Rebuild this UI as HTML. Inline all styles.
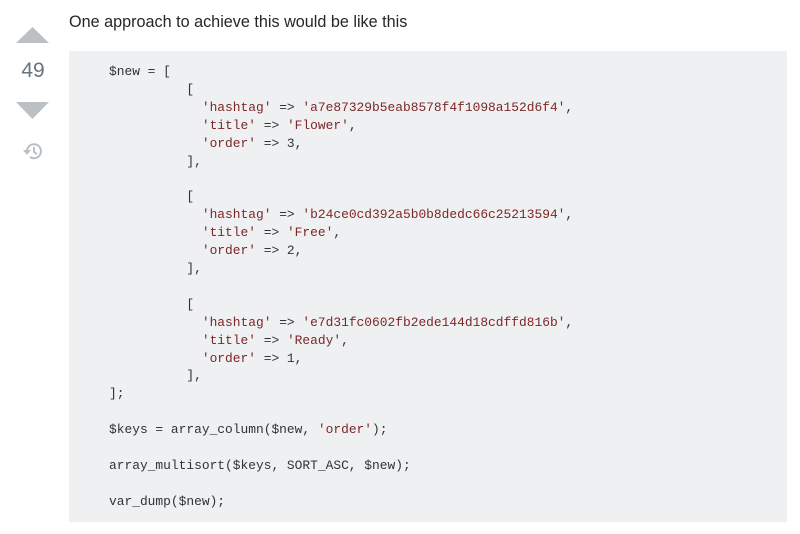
<!DOCTYPE html>
<html><head><meta charset="utf-8"><style>
body{margin:0;width:800px;height:534px;background:#fff;position:relative;overflow:hidden;font-family:"Liberation Sans",Arial,sans-serif}
.p{position:absolute;left:69px;top:13px;font-size:16.2px;color:#242729}
.box{position:absolute;left:69px;top:51px;width:718px;height:471px;background:#eff0f1}
pre{position:absolute;left:109px;top:63px;margin:0;font-family:"Liberation Mono",monospace;font-size:12.9px;line-height:17.9px;color:#303336}
.s{color:#7d2727}
.n{position:absolute;left:16px;width:34px;text-align:center;top:59px;font-size:21px;color:#6a737c}
</style></head><body>
<div class="p">One approach to achieve this would be like this</div>
<svg style="position:absolute;left:0;top:0" width="69" height="170">
<polygon points="16,43 49,43 32.5,27" fill="#bbc0c4"/>
<polygon points="16,102 49,102 32.5,119" fill="#bbc0c4"/>
<g fill="none" stroke="#bbc0c4" stroke-width="2"><path d="M27,152 A7,7 0 1 1 30,157"/><path d="M34,147 V152 L37,154"/></g>
<polygon points="23,150 31,150 27,155" fill="#bbc0c4"/>
</svg>
<div class="n">49</div>
<div class="box"></div>
<pre>$new = [
          [
            <span class="s">'hashtag'</span> =&gt; <span class="s">'a7e87329b5eab8578f4f1098a152d6f4'</span>,
            <span class="s">'title'</span> =&gt; <span class="s">'Flower'</span>,
            <span class="s">'order'</span> =&gt; 3,
          ],

          [
            <span class="s">'hashtag'</span> =&gt; <span class="s">'b24ce0cd392a5b0b8dedc66c25213594'</span>,
            <span class="s">'title'</span> =&gt; <span class="s">'Free'</span>,
            <span class="s">'order'</span> =&gt; 2,
          ],

          [
            <span class="s">'hashtag'</span> =&gt; <span class="s">'e7d31fc0602fb2ede144d18cdffd816b'</span>,
            <span class="s">'title'</span> =&gt; <span class="s">'Ready'</span>,
            <span class="s">'order'</span> =&gt; 1,
          ],
];

$keys = array_column($new, <span class="s">'order'</span>);

array_multisort($keys, SORT_ASC, $new);

var_dump($new);</pre>
</body></html>
